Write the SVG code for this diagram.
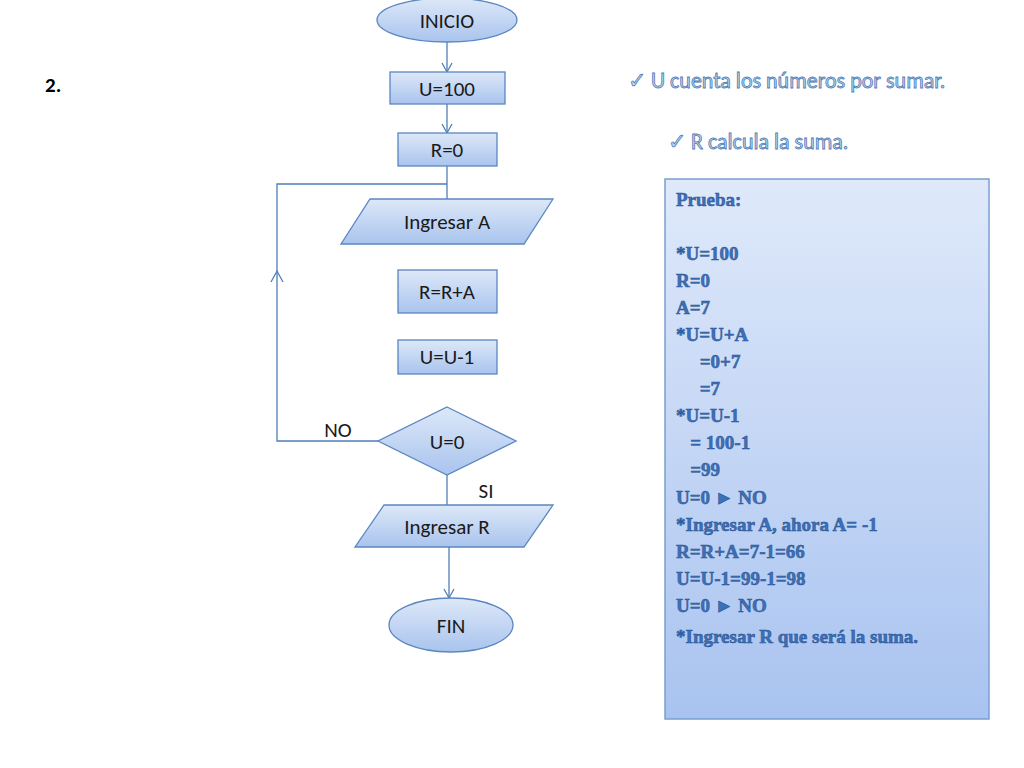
<svg xmlns="http://www.w3.org/2000/svg" width="1024" height="768" viewBox="0 0 1024 768">
<defs>
<linearGradient id="g" x1="0" y1="0" x2="0" y2="1"><stop offset="0" stop-color="#dde8f8"/><stop offset="1" stop-color="#a9c4ee"/></linearGradient>
<linearGradient id="gb" x1="0" y1="0" x2="0" y2="1"><stop offset="0" stop-color="#dfe9fa"/><stop offset="1" stop-color="#a9c3f0"/></linearGradient>
<linearGradient id="tg" x1="0" y1="0" x2="0" y2="1"><stop offset="0" stop-color="#c6d8f2"/><stop offset="1" stop-color="#6d94cc"/></linearGradient>
<marker id="a" markerWidth="12" markerHeight="12" refX="10" refY="6" orient="auto" markerUnits="userSpaceOnUse"><path d="M1,1 L10,6 L1,11" fill="none" stroke="#4f7fb8" stroke-width="1.3"/></marker>
</defs>
<style>
.n{fill:url(#g);stroke:#5b86c0;stroke-width:1.3}
.t{font-family:Carlito,"Liberation Sans",sans-serif;font-size:21px;fill:#1a1a1a;text-anchor:middle}
.c{fill:none;stroke:#4f7fb8;stroke-width:1.3}
.p{font-family:"Liberation Serif",serif;font-weight:bold;font-size:19px;fill:#3e70b8;stroke:#24508f;stroke-width:0.5}
.h{font-family:Carlito,"Liberation Sans",sans-serif;font-size:22px;fill:#c3d6f0;stroke:#4d7bb5;stroke-width:0.8}
</style>
<rect width="1024" height="768" fill="#fff"/>
<text x="45" y="92" font-family="Carlito,'Liberation Sans',sans-serif" font-size="21" font-weight="bold">2.</text>
<g id="connectors">
<line class="c" x1="447" y1="42" x2="447" y2="72" marker-end="url(#a)"/>
<line class="c" x1="447" y1="104" x2="447" y2="133" marker-end="url(#a)"/>
<line class="c" x1="447" y1="166" x2="447" y2="199"/>
<polyline class="c" points="378,441 277,441 277,184 447,184"/>
<polyline class="c" points="271,282 277,271 283,282"/>
<line class="c" x1="447" y1="475" x2="447" y2="505"/>
<line class="c" x1="449" y1="547" x2="449" y2="598" marker-end="url(#a)"/>
<text class="t" x="338" y="437">NO</text>
<text class="t" x="486" y="498">SI</text>
</g>
<g id="inicio"><ellipse class="n" cx="447" cy="20" rx="70" ry="22"/><text class="t" x="447" y="28">INICIO</text></g>
<g id="u100"><rect class="n" x="390" y="72" width="115" height="32"/><text class="t" x="447" y="96">U=100</text></g>
<g id="r0"><rect class="n" x="398" y="133" width="99" height="33"/><text class="t" x="447" y="157">R=0</text></g>
<g id="ingA"><polygon class="n" points="370,199 553,199 524,244 341,244"/><text class="t" x="447" y="229">Ingresar A</text></g>
<g id="rra"><rect class="n" x="398" y="270" width="99" height="43"/><text class="t" x="447" y="299">R=R+A</text></g>
<g id="uu1"><rect class="n" x="398" y="340" width="99" height="34"/><text class="t" x="447" y="364">U=U-1</text></g>
<g id="dec"><polygon class="n" points="447,407 516,441 447,475 378,441"/><text class="t" x="447" y="449">U=0</text></g>
<g id="ingR"><polygon class="n" points="384,505 553,505 524,547 355,547"/><text class="t" x="447" y="534">Ingresar R</text></g>
<g id="fin"><ellipse class="n" cx="451" cy="625" rx="62" ry="27"/><text class="t" x="451" y="633">FIN</text></g>
<text class="h" x="628" y="88">✓ U cuenta los números por sumar.</text>
<text class="h" x="668" y="149">✓ R  calcula la suma.</text>
<g id="prueba">
<rect x="665" y="179" width="324" height="540" fill="url(#gb)" stroke="#7a9fd0" stroke-width="1.5"/>
<text class="p" x="676" y="206">Prueba:</text>
<text class="p" x="676" y="260">*U=100</text>
<text class="p" x="676" y="287">R=0</text>
<text class="p" x="676" y="314">A=7</text>
<text class="p" x="676" y="341">*U=U+A</text>
<text class="p" x="676" y="368" xml:space="preserve">     =0+7</text>
<text class="p" x="676" y="395" xml:space="preserve">     =7</text>
<text class="p" x="676" y="422">*U=U-1</text>
<text class="p" x="676" y="449" xml:space="preserve">   = 100-1</text>
<text class="p" x="676" y="476" xml:space="preserve">   =99</text>
<text class="p" x="676" y="504">U=0  ►  NO</text>
<text class="p" x="676" y="531">*Ingresar A, ahora A= -1</text>
<text class="p" x="676" y="558">R=R+A=7-1=66</text>
<text class="p" x="676" y="585">U=U-1=99-1=98</text>
<text class="p" x="676" y="612">U=0   ►  NO</text>
<text class="p" x="676" y="643">*Ingresar R que será la suma.</text>
</g>
</svg>
